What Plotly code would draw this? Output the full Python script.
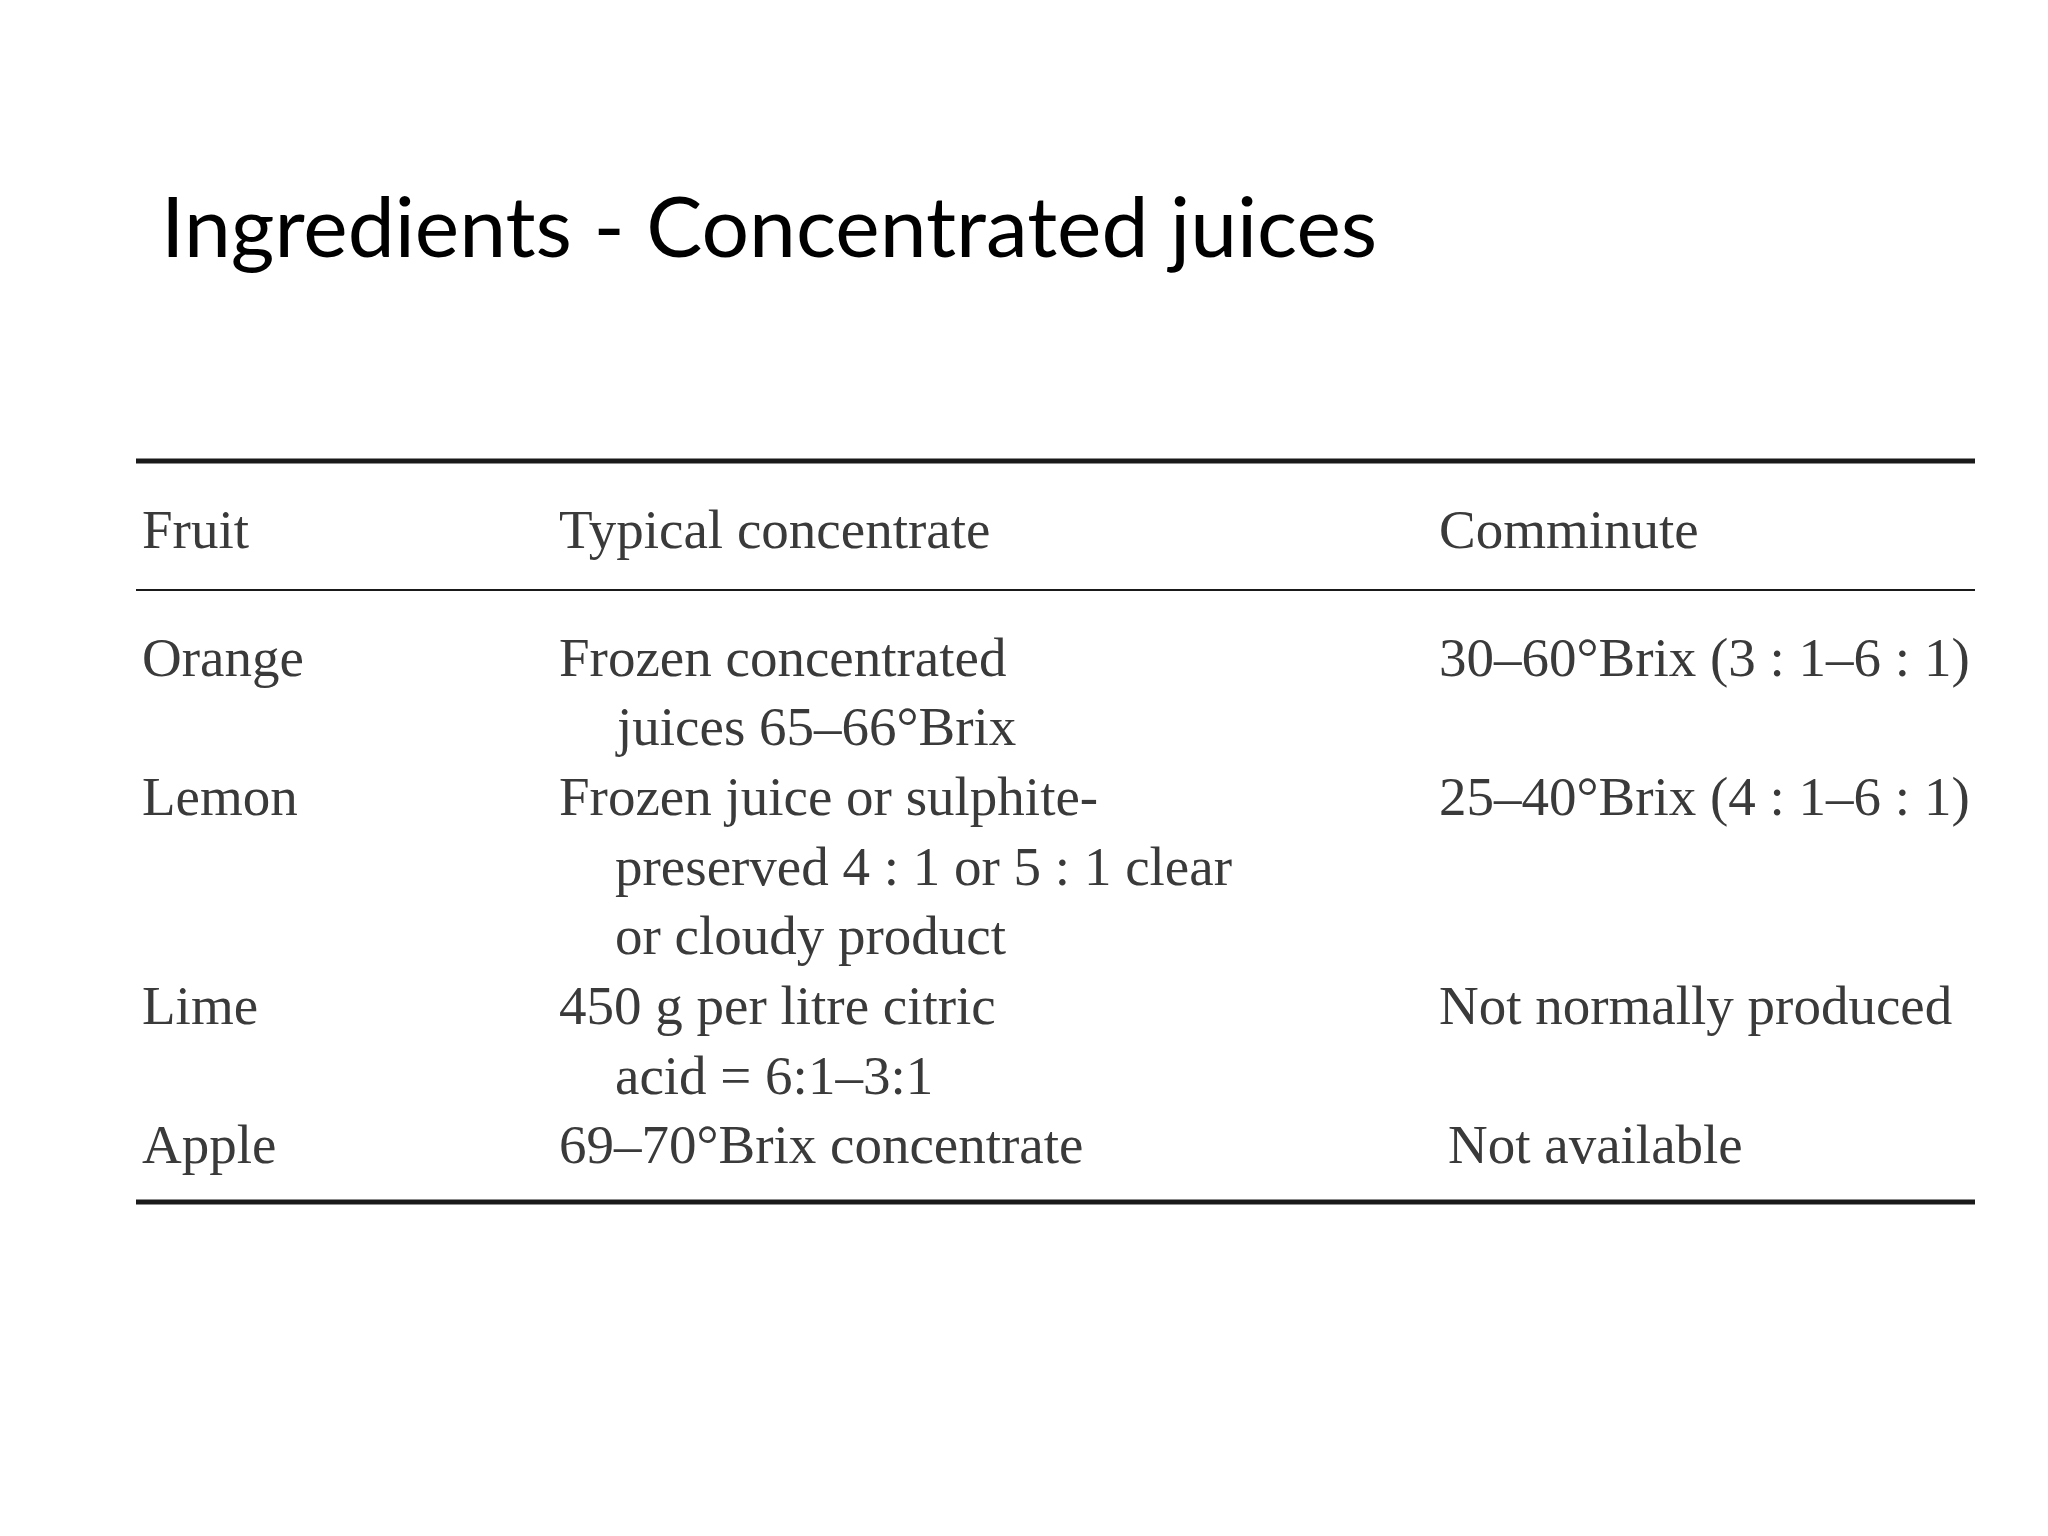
import plotly.graph_objects as go

title = "Ingredients - Concentrated juices"
headers = ["Fruit", "Typical concentrate", "Comminute"]
fruits = ["Orange", "Lemon", "Lime", "Apple"]
concentrate = [
    ["Frozen concentrated", "juices 65\u201366\u00b0Brix"],
    ["Frozen juice or sulphite-", "preserved 4 : 1 or 5 : 1 clear", "or cloudy product"],
    ["450 g per litre citric", "acid = 6:1\u20133:1"],
    ["69\u201370\u00b0Brix concentrate"],
]
comminute = ["30\u201360\u00b0Brix (3 : 1\u20136 : 1)", "25\u201340\u00b0Brix (4 : 1\u20136 : 1)",
             "Not normally produced", "Not available"]

W, H = 2048, 1536
fig = go.Figure()
fig.update_layout(width=W, height=H, margin=dict(l=0, r=0, t=0, b=0),
                  paper_bgcolor="white", plot_bgcolor="white", showlegend=False,
                  xaxis=dict(range=[0, W], visible=False, fixedrange=True),
                  yaxis=dict(range=[H, 0], visible=False, fixedrange=True))

FONT = "Liberation Serif"
TC = "#3a3a3a"
FS = 55
DX, DY = -9, -8
col_x = [141, 558, 1438]
indent = 614
line_h = 69.7

def txt(x, y, s, size=FS, family=FONT, color=TC):
    fig.add_annotation(x=x + DX, y=y + DY, text=s, showarrow=False, xanchor="left", yanchor="middle",
                       xref="x", yref="y", font=dict(family=family, size=size, color=color))

txt(160, 224, title, size=84, family="Lato", color="black")

for i, h in enumerate(headers):
    txt(col_x[i], 529, h)

y = 657
for f, conc, com in zip(fruits, concentrate, comminute):
    txt(col_x[0], y, f)
    cx = col_x[2] + (9 if com == "Not available" else 0)
    txt(cx, y, com)
    for j, line in enumerate(conc):
        txt(col_x[1] if j == 0 else indent, y + j * line_h, line)
    y += line_h * len(conc)

for yy, w in [(461, 5), (590, 2), (1202, 5)]:
    fig.add_shape(type="line", x0=137 + DX, x1=1976 + DX, y0=yy + DY, y1=yy + DY, xref="x", yref="y",
                  line=dict(color="#1a1a1a", width=w))

fig.write_html("out.html")
